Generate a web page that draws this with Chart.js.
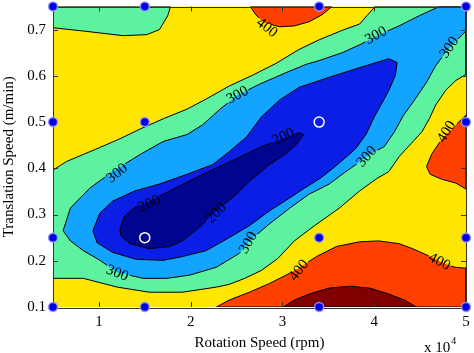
<!DOCTYPE html>
<html>
<head>
<meta charset="utf-8">
<script src="https://cdn.jsdelivr.net/npm/chart.js@4.4.0/dist/chart.umd.min.js"></script>
<style>
  html, body { margin: 0; padding: 0; background: #fff; }
  canvas { display: block; }
</style>
</head>
<body>
<canvas id="contourChart" width="474" height="353"></canvas>
<script>
// axis ticks (x in 10^4 rpm, y in m/min)
var xTicks = [1, 2, 3, 4, 5];
var yTicks = [0.1, 0.2, 0.3, 0.4, 0.5, 0.6, 0.7];

// experiment points
var runPoints = [[0.5,0.75],[1.5,0.75],[3.4,0.75],[5,0.75],[0.5,0.5],[1.5,0.5],[5,0.5],
                 [0.5,0.25],[3.4,0.25],[5,0.25],[0.5,0.1],[1.5,0.1],[3.4,0.1],[5,0.1]];
var centerPoints = [[3.4,0.5],[1.5,0.25]];

// contour regions
var below350 = [[0.5,0.396],[0.65,0.415],[0.83,0.43],[1.01,0.445],[1.23,0.464],[1.45,0.485],[1.70,0.507],[1.96,0.528],
  [2.17,0.55],[2.42,0.578],[2.67,0.601],[2.93,0.627],[3.18,0.657],[3.40,0.678],[3.67,0.70],[3.84,0.712],[3.92,0.73],[4.01,0.75],
  [5,0.75],[5,0.603],[4.89,0.59],[4.78,0.569],[4.67,0.537],[4.60,0.507],[4.52,0.479],[4.40,0.453],[4.27,0.425],[4.16,0.393],
  [4.03,0.378],[3.84,0.351],[3.62,0.314],[3.35,0.276],[3.13,0.243],[2.95,0.205],[2.77,0.179],[2.59,0.162],[2.42,0.149],
  [2.28,0.143],[1.91,0.132],[1.55,0.132],[1.20,0.143],[0.83,0.162],[0.5,0.162]];
var below350Corner = [[0.5,0.75],[1.78,0.75],[1.75,0.73],[1.66,0.70],[1.52,0.689],[1.26,0.687],[0.83,0.697],[0.5,0.704]];
var below300 = [[4.71,0.75],[5,0.75],[5,0.697],[4.82,0.661],[4.67,0.622],[4.57,0.586],[4.44,0.548],[4.32,0.515],[4.22,0.479],
  [4.11,0.447],[3.95,0.43],[3.80,0.408],[3.65,0.387],[3.51,0.366],[3.29,0.344],[3.08,0.314],[2.86,0.28],[2.64,0.243],
  [2.53,0.216],[2.28,0.186],[1.99,0.169],[1.74,0.162],[1.48,0.162],[1.20,0.175],[1.01,0.201],[0.83,0.222],[0.69,0.243],
  [0.61,0.265],[0.69,0.314],[0.90,0.357],[1.15,0.393],[1.45,0.43],[1.70,0.458],[1.96,0.473],[2.13,0.494],[2.32,0.528],
  [2.51,0.558],[2.75,0.582],[3.04,0.607],[3.26,0.625],[3.40,0.633],[3.65,0.65],[3.84,0.667],[4.03,0.687],[4.27,0.708],[4.49,0.73]];
var below250 = [[0.935,0.265],[1.01,0.303],[1.15,0.329],[1.39,0.351],[1.66,0.366],[1.96,0.387],[2.24,0.408],[2.42,0.436],
  [2.61,0.468],[2.77,0.511],[2.97,0.548],[3.18,0.575],[3.51,0.597],[3.91,0.622],[4.16,0.637],[4.25,0.629],[4.23,0.601],
  [4.16,0.569],[4.09,0.543],[4.0,0.511],[3.91,0.473],[3.80,0.443],[3.70,0.425],[3.55,0.40],[3.41,0.378],[3.24,0.357],
  [3.08,0.336],[2.86,0.308],[2.64,0.276],[2.42,0.25],[2.17,0.222],[1.91,0.209],[1.70,0.201],[1.41,0.203],[1.15,0.218],[0.98,0.239]];
var below200 = [[1.23,0.269],[1.28,0.297],[1.41,0.318],[1.55,0.329],[1.77,0.351],[2.13,0.387],[2.50,0.421],[2.75,0.445],
  [2.97,0.462],[3.18,0.477],[3.23,0.473],[3.15,0.451],[3.04,0.432],[2.86,0.408],[2.64,0.372],[2.50,0.344],[2.28,0.308],
  [2.10,0.273],[1.91,0.243],[1.77,0.231],[1.55,0.226],[1.34,0.237],[1.24,0.254]];
var above400Top = [[2.65,0.75],[2.71,0.732],[2.80,0.715],[2.97,0.706],[3.13,0.708],[3.29,0.717],[3.43,0.732],[3.54,0.75]];
var above400Right = [[5,0.515],[4.89,0.494],[4.74,0.464],[4.63,0.432],[4.57,0.404],[4.61,0.387],[4.74,0.376],[4.89,0.368],[5,0.355]];
var above400Bottom = [[2.28,0.1],[2.42,0.115],[2.64,0.132],[2.86,0.151],[3.04,0.169],[3.18,0.184],[3.37,0.209],[3.59,0.231],
  [3.84,0.241],[4.05,0.243],[4.27,0.237],[4.42,0.226],[4.61,0.209],[4.76,0.194],[4.88,0.186],[5,0.184],[5,0.1]];
var above450 = [[3.01,0.1],[3.13,0.115],[3.29,0.128],[3.51,0.141],[3.73,0.145],[3.95,0.141],[4.16,0.128],[4.33,0.115],[4.46,0.1]];

// contour labels: x, y, angle, text
var contourLabels = [
  [2.83,0.704,38,'400'], [4.02,0.687,-28,'300'], [4.82,0.661,-55,'300'], [2.51,0.558,-28,'300'],
  [1.20,0.389,-38,'300'], [3.01,0.468,-25,'200'], [1.55,0.323,-25,'200'], [2.28,0.303,-45,'200'],
  [1.20,0.173,22,'300'], [2.63,0.239,-60,'300'], [3.92,0.425,-48,'300'], [3.18,0.179,-52,'400'],
  [4.79,0.479,-58,'400'], [4.71,0.198,28,'400']
];

var serif = "'Liberation Serif', 'Times New Roman', serif";
var labelFont = '15px ' + serif;

function region(pts, color) {
  return {
    data: pts.concat([pts[0]]).map(function (p) { return {x: p[0], y: p[1]}; }),
    showLine: true,
    fill: 'shape',
    backgroundColor: color,
    borderColor: '#000',
    borderWidth: 1,
    pointRadius: 0,
    tension: 0
  };
}

var contourPlugin = {
  id: 'contourExtras',
  beforeDatasetsDraw: function (chart) {
    var a = chart.chartArea, ctx = chart.ctx;
    ctx.save();
    ctx.fillStyle = '#ffe600';
    ctx.fillRect(a.left, a.top, a.right - a.left, a.bottom - a.top);
    ctx.restore();
  },
  beforeDatasetDraw: function (chart, args) {
    if (args.index < 2) return;
    // keep contour lines out from under the labels
    var ctx = chart.ctx, xs = chart.scales.x, ys = chart.scales.y;
    ctx.save();
    ctx.font = labelFont;
    ctx.beginPath();
    ctx.rect(0, 0, chart.width, chart.height);
    contourLabels.forEach(function (l) {
      var cx = xs.getPixelForValue(l[0]), cy = ys.getPixelForValue(l[1]);
      var hw = ctx.measureText(l[3]).width / 2 + 1, hh = 5;
      var c = Math.cos(l[2] * Math.PI / 180), s = Math.sin(l[2] * Math.PI / 180);
      [[-hw,-hh],[hw,-hh],[hw,hh],[-hw,hh]].forEach(function (p, i) {
        var px = cx + p[0] * c - p[1] * s, py = cy + p[0] * s + p[1] * c;
        if (i === 0) ctx.moveTo(px, py); else ctx.lineTo(px, py);
      });
      ctx.closePath();
    });
    ctx.clip('evenodd');
  },
  afterDatasetDraw: function (chart, args) {
    if (args.index < 2) return;
    var ctx = chart.ctx;
    ctx.restore();
    if (args.index !== 2) return;
    var a = chart.chartArea;
    var xs = chart.scales.x, ys = chart.scales.y;
    ctx.save();
    // labels on contour lines
    ctx.fillStyle = '#000';
    ctx.font = labelFont;
    ctx.textAlign = 'center';
    ctx.textBaseline = 'middle';
    contourLabels.forEach(function (l) {
      ctx.save();
      ctx.translate(xs.getPixelForValue(l[0]), ys.getPixelForValue(l[1]));
      ctx.rotate(l[2] * Math.PI / 180);
      ctx.fillText(l[3], 0, 0);
      ctx.restore();
    });
    // frame and inward ticks
    ctx.strokeStyle = '#333';
    ctx.lineWidth = 1;
    ctx.beginPath();
    xTicks.forEach(function (v) {
      var px = Math.round(xs.getPixelForValue(v)) + 0.5;
      ctx.moveTo(px, a.bottom); ctx.lineTo(px, a.bottom - 5);
      ctx.moveTo(px, a.top); ctx.lineTo(px, a.top + 5);
    });
    yTicks.forEach(function (v) {
      var py = Math.round(ys.getPixelForValue(v)) + 0.5;
      ctx.moveTo(a.left, py); ctx.lineTo(a.left + 5, py);
      ctx.moveTo(a.right, py); ctx.lineTo(a.right - 5, py);
    });
    ctx.stroke();
    ctx.strokeRect(Math.round(a.left) + 0.5, Math.round(a.top) + 0.5,
      Math.round(a.right - a.left), Math.round(a.bottom - a.top));
    ctx.restore();
  },
  afterDraw: function (chart) {
    var ctx = chart.ctx;
    ctx.save();
    ctx.fillStyle = '#000';
    ctx.textAlign = 'left';
    ctx.textBaseline = 'alphabetic';
    ctx.font = '15px ' + serif;
    ctx.fillText('x 10', 424, 352);
    var w = ctx.measureText('x 10').width;
    ctx.font = '10px ' + serif;
    ctx.fillText('4', 424 + w + 1, 344);
    ctx.restore();
  }
};

var ctx = document.getElementById('contourChart').getContext('2d');
var myChart = new Chart(ctx, {
  type: 'scatter',
  data: {
    datasets: [
      {
        data: centerPoints.map(function (p) { return {x: p[0], y: p[1]}; }),
        pointRadius: 5,
        pointBackgroundColor: 'rgba(0,0,0,0)',
        pointBorderColor: '#fff',
        pointBorderWidth: 1.5,
        clip: false
      },
      {
        data: runPoints.map(function (p) { return {x: p[0], y: p[1]}; }),
        pointRadius: 4.5,
        pointBackgroundColor: '#0000e0',
        pointBorderColor: 'rgba(150,150,255,0.9)',
        pointBorderWidth: 1.5,
        clip: false
      },
      region(below200, '#00058f'),
      region(below250, '#0a1ee6'),
      region(below300, '#12a4ff'),
      region(below350, '#5cf2a0'),
      region(below350Corner, '#5cf2a0'),
      region(above400Top, '#ff4000'),
      region(above400Right, '#ff4000'),
      region(above450, '#800000'),
      region(above400Bottom, '#ff4000')
    ]
  },
  options: {
    responsive: false,
    animation: false,
    events: [],
    layout: { padding: { top: 4, right: 8, left: 0, bottom: 0 } },
    plugins: {
      legend: { display: false },
      tooltip: { enabled: false }
    },
    scales: {
      x: {
        type: 'linear',
        min: 0.5,
        max: 5,
        afterBuildTicks: function (scale) { scale.ticks = xTicks.map(function (v) { return {value: v}; }); },
        afterFit: function (scale) { scale.height = 46; scale.paddingLeft = 0; scale.paddingRight = 0; },
        grid: { display: false, drawTicks: false },
        border: { display: false },
        ticks: { color: '#000', padding: 6, font: { family: serif, size: 15 }, maxRotation: 0,
                 callback: function (v) { return String(v); } },
        title: { display: true, text: 'Rotation Speed (rpm)', color: '#000',
                 font: { family: serif, size: 15 }, padding: { top: 0, bottom: 1 } }
      },
      y: {
        type: 'linear',
        min: 0.1,
        max: 0.75,
        afterBuildTicks: function (scale) { scale.ticks = yTicks.map(function (v) { return {value: v}; }); },
        afterFit: function (scale) { scale.width = 53; scale.paddingTop = 0; scale.paddingBottom = 0; },
        grid: { display: false, drawTicks: false },
        border: { display: false },
        ticks: { color: '#000', padding: 7, font: { family: serif, size: 15 },
                 callback: function (v) { return String(v); } },
        title: { display: true, text: 'Translation Speed (m/min)', color: '#000',
                 font: { family: serif, size: 15 }, padding: { top: 0, bottom: 0 } }
      }
    }
  },
  plugins: [contourPlugin]
});
</script>
</body>
</html>
